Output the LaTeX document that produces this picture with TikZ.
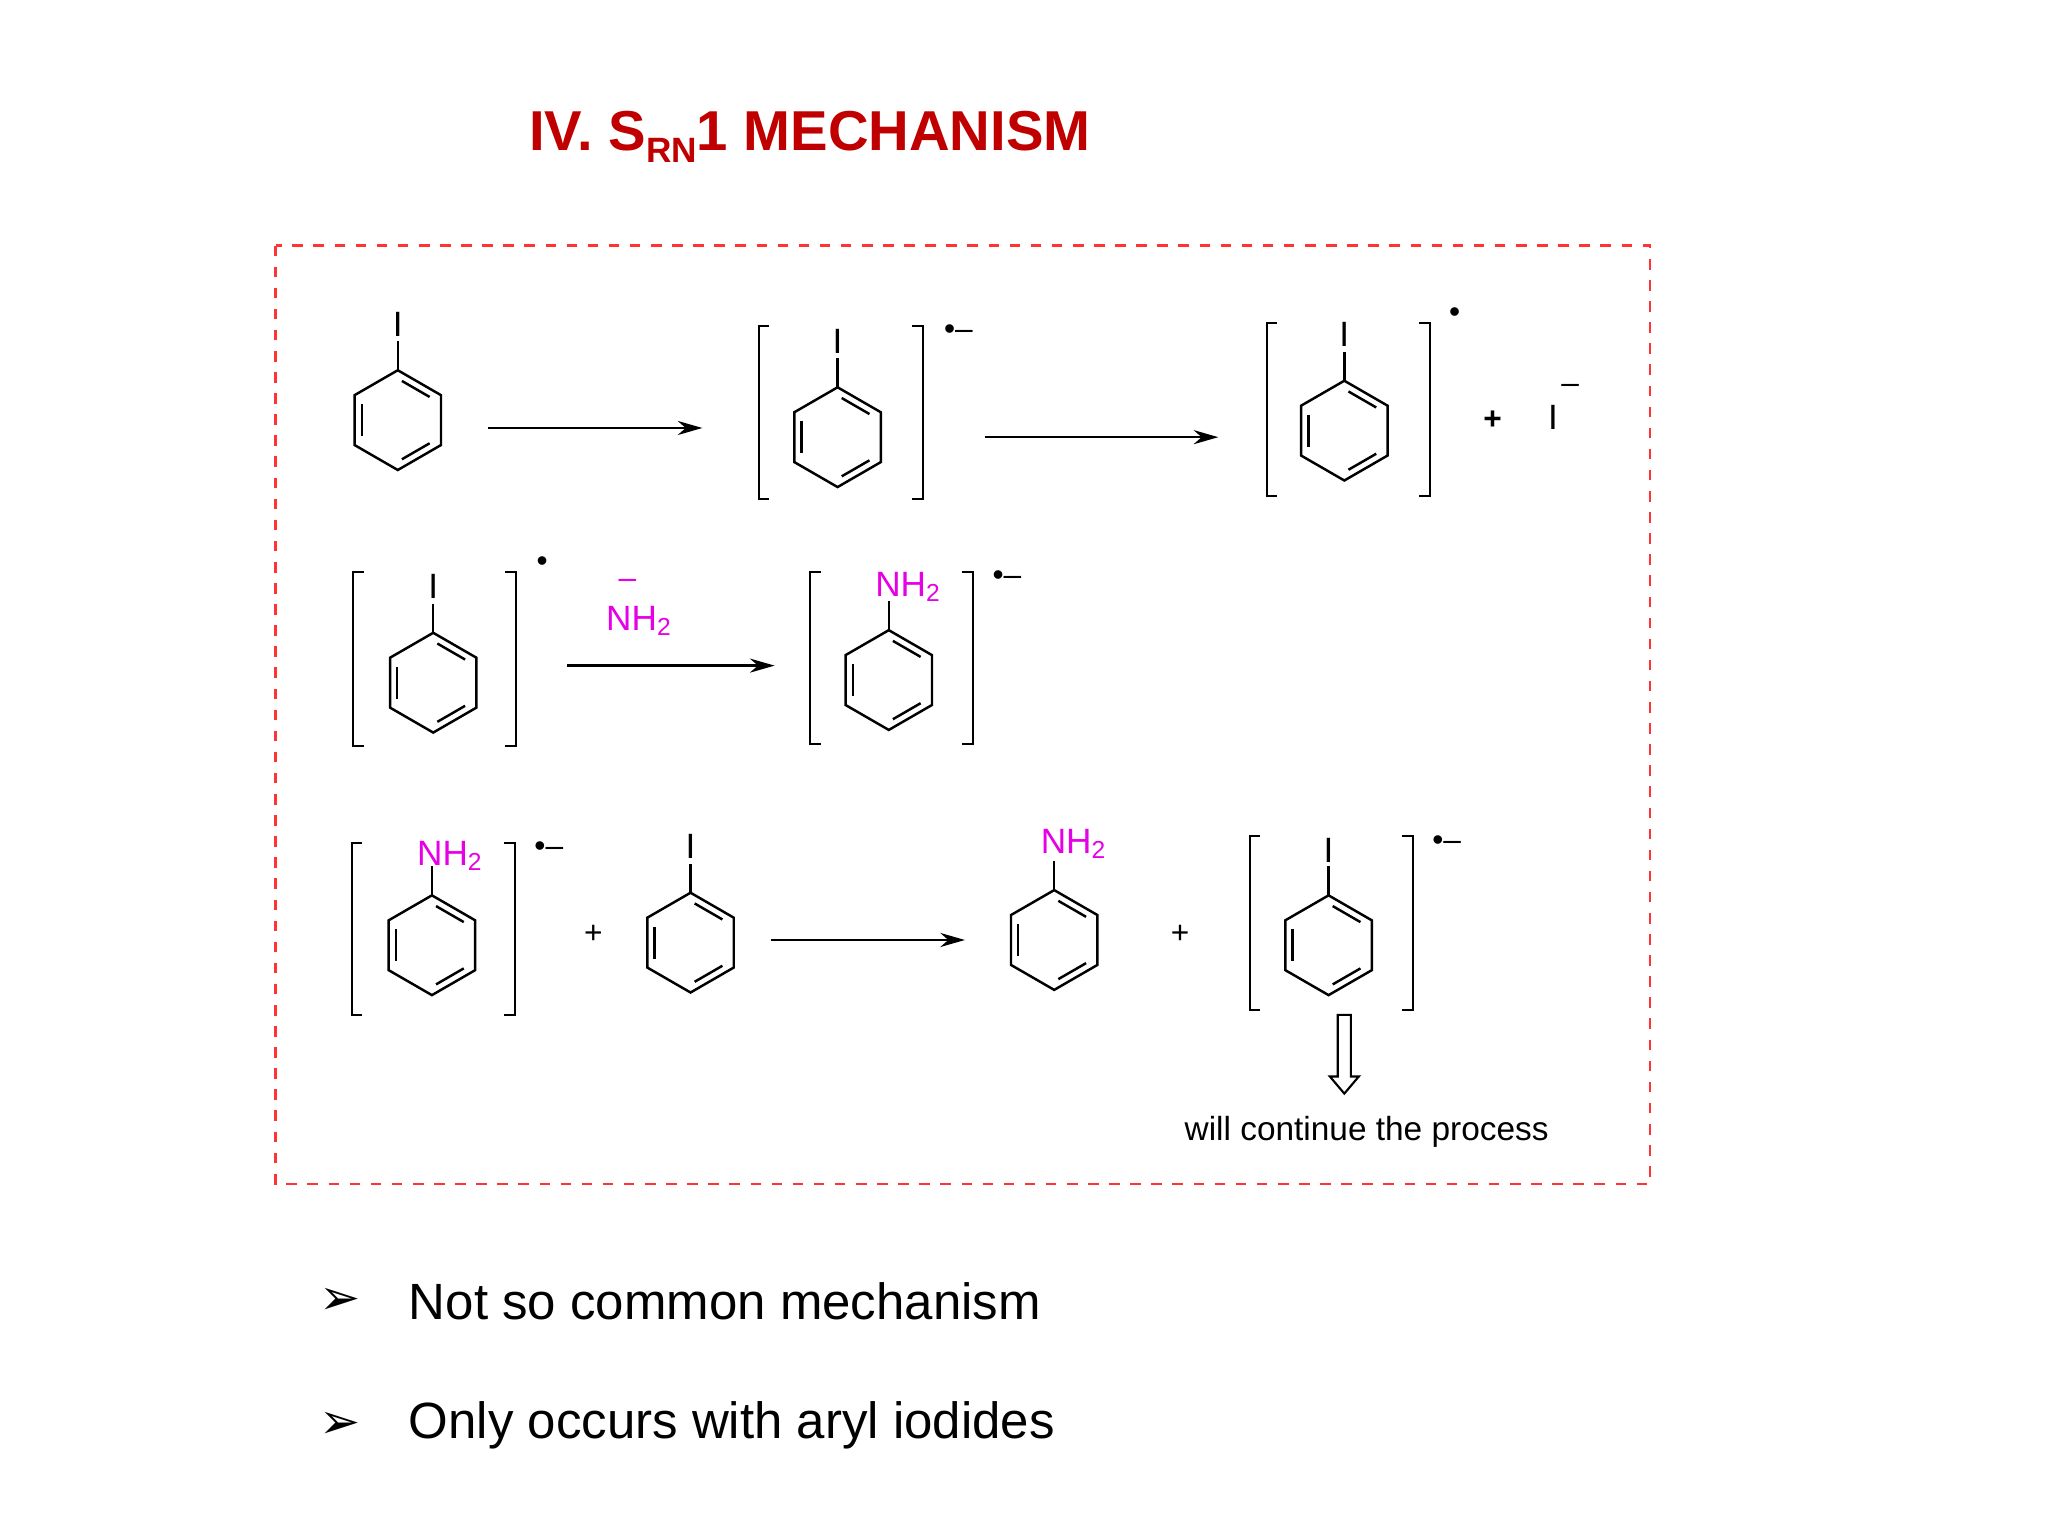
\documentclass[tikz,border=0pt]{standalone}
\usepackage{fontspec}
\setmainfont{Liberation Sans}
\newfontfamily\symfont{DejaVu Sans}
\usetikzlibrary{arrows.meta}

\definecolor{titlered}{RGB}{192,0,0}
\definecolor{nhcol}{RGB}{230,0,230}

\tikzset{
  bond/.style={line width=0.7pt},
  rxn/.style={line width=0.7pt,-{Stealth[length=7pt,width=4pt]}},
  atom/.style={font=\fontsize{10}{12}\selectfont,inner sep=0pt},
  amine/.style={atom,text=nhcol},
  charge/.style={font=\fontsize{9}{10}\selectfont,inner sep=0pt},
  % benzene ring, pointy top
  benzene/.pic={
    \draw[bond] (90:38) -- (30:38) -- (-30:38) -- (-90:38) -- (-150:38) -- (150:38) -- cycle;
    \draw[bond] (84:30) -- (36:30);
    \draw[bond] (-36:30) -- (-84:30);
    \draw[bond] (-156:30) -- (156:30);
  },
  % ring with a bond going up
  subbenz/.pic={
    \pic {benzene};
    \draw[bond] (0,-38) -- (0,-60);
  }
}

% square bracket pair: left x, right x, top y, bottom y
\newcommand{\brk}[4]{
  \draw[line width=0.6pt] (#1+8,#3) -- (#1,#3) -- (#1,#4) -- (#1+8,#4);
  \draw[line width=0.6pt] (#2-8,#3) -- (#2,#3) -- (#2,#4) -- (#2-8,#4);
}

\begin{document}
\begin{tikzpicture}[x=0.013128cm,y=-0.013128cm]
\useasboundingbox (0,0) rectangle (1560,1170);

% title
\node[text=titlered,font=\bfseries\fontsize{16}{19}\selectfont] (title) at (617,104)
  {IV. S\raisebox{-0.4ex}{\fontsize{10}{12}\selectfont RN}1 MECHANISM};

% frame
\draw[red!80!white,dashed,line width=0.7pt] (210,187) rectangle (1257,902);

% row 1
\pic at (303,320) {subbenz};
\node[atom] (i1) at (303,247) {I};
\coordinate (a1s) at (372,326); \coordinate (a1e) at (535,326);
\draw[rxn] (a1s) -- (a1e);
\brk{578}{703}{248}{380}
\pic at (638,333) {subbenz};
\node[atom] (i2) at (638,260) {I};
\node[charge] (c1) at (730,253) {•–};
\coordinate (a2s) at (750,333); \coordinate (a2e) at (928,333);
\draw[rxn] (a2s) -- (a2e);
\brk{965}{1089}{246}{378}
\pic at (1024,328) {subbenz};
\node[atom] (i3) at (1024,255) {I};
\node[charge] (c2) at (1108,240) {•};
\node[charge] (p1) at (1137,320) {\bfseries +};
\node[atom] (i4) at (1183,318) {I};
\node[charge] (c3) at (1196,296) {–};

% row 2
\brk{269}{393}{436}{568}
\pic at (330,520) {subbenz};
\node[atom] (i5) at (330,447) {I};
\node[charge] (c4) at (413,430) {•};
\node[charge,text=nhcol] (c5) at (478,445) {–};
\node[amine] (nh1) at (487,473) {NH\textsubscript{2}};
\coordinate (a3s) at (432,507); \coordinate (a3e) at (590,507);
\draw[rxn] (a3s) -- (a3e);
\brk{617}{741}{436}{567}
\pic at (677,518) {subbenz};
\node[amine] (nh2) at (692,447) {NH\textsubscript{2}};
\node[charge] (c6) at (767,440) {•–};

% row 3
\brk{268}{392}{642}{773}
\pic at (329,720) {subbenz};
\node[amine] (nh3) at (343,652) {NH\textsubscript{2}};
\node[charge] (c7) at (418,647) {•–};
\node[charge] (p2) at (452,712) {+};
\pic at (526,718) {subbenz};
\node[atom] (i6) at (526,645) {I};
\coordinate (a4s) at (587,716); \coordinate (a4e) at (735,716);
\draw[rxn] (a4s) -- (a4e);
\pic at (803,716) {subbenz};
\node[amine] (nh4) at (818,643) {NH\textsubscript{2}};
\node[charge] (p3) at (899,712) {+};
\brk{952}{1076}{637}{769}
\pic at (1012,720) {subbenz};
\node[atom] (i7) at (1012,648) {I};
\node[charge] (c8) at (1102,642) {•–};

% hollow arrow
\draw[line width=0.6pt] (1019,773) -- (1029,773) -- (1029,820) -- (1035,820)
  -- (1024,833) -- (1013,820) -- (1019,820) -- cycle;
\node[font=\fontsize{9.5}{11}\selectfont] (cont) at (1041,862) {will continue the process};

% bullets
\node[font=\symfont\fontsize{14}{17}\selectfont] (b1) at (259,991) {➢};
\node[anchor=west,font=\fontsize{14.5}{17}\selectfont] (t1) at (302,991) {Not so common mechanism};
\node[font=\symfont\fontsize{14}{17}\selectfont] (b2) at (259,1086) {➢};
\node[anchor=west,font=\fontsize{14.5}{17}\selectfont] (t2) at (302,1086) {Only occurs with aryl iodides};
\end{tikzpicture}
\end{document}
